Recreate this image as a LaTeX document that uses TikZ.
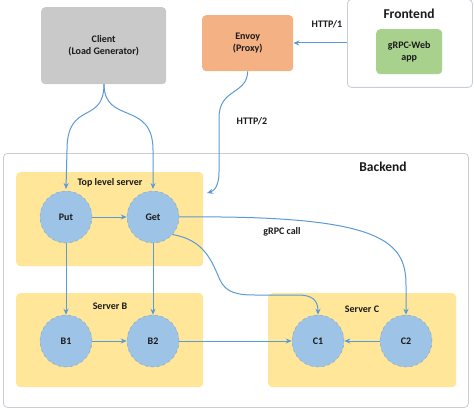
\documentclass[tikz,border=0pt]{standalone}
\usepackage{fontspec}
\setmainfont{Carlito}
\usetikzlibrary{arrows.meta,calc}
\definecolor{edgeblue}{HTML}{5B9BD5}
\definecolor{circfill}{HTML}{9DC3E6}
\definecolor{circline}{HTML}{8AA8C6}
\definecolor{yel}{HTML}{FFE699}
\definecolor{grayfill}{HTML}{C9C9C9}
\definecolor{orangefill}{HTML}{F4B183}
\definecolor{greenfill}{HTML}{A9D18E}
\definecolor{frameline}{HTML}{C8CDD6}
\definecolor{txt}{HTML}{1A1A1A}
\tikzset{
  arr/.style={draw=edgeblue, line width=1pt, -{Stealth[length=6pt,width=5pt]}},
  srv/.style={fill=yel, draw=none, rounded corners=4pt},
  circ/.style={circle, fill=circfill, draw=circline, dashed, line width=0.5pt, minimum size=52pt, inner sep=0pt, font=\bfseries\fontsize{10}{11}\selectfont, text=txt},
  lbl/.style={font=\bfseries\fontsize{10}{12}\selectfont, text=txt},
  bigl/.style={font=\bfseries\fontsize{13.5}{15}\selectfont, text=txt},
}
\begin{document}
\begin{tikzpicture}[x=1pt,y=-1pt]
\useasboundingbox (0,0) rectangle (474,412);
% frames
\node[draw=frameline, fill=white, rounded corners=4pt, minimum width=465pt, minimum height=254pt, anchor=north west, line width=0.8pt] (backend) at (3,153) {};
\node[bigl] (backendl) at (383,167) {Backend};
\node[draw=frameline, fill=white, rounded corners=4pt, minimum width=125pt, minimum height=88pt, anchor=north west, line width=0.8pt] (frontend) at (347,-1) {};
\node[bigl] (frontendl) at (409,14) {Frontend};
% boxes
\node[fill=grayfill, rounded corners=4pt, minimum width=125pt, minimum height=77pt, anchor=north west, align=center, lbl] (client) at (41,7) {Client\\(Load Generator)};
\node[fill=orangefill, rounded corners=4pt, minimum width=91pt, minimum height=56pt, anchor=north west, align=center, lbl] (envoy) at (202,15) {Envoy\\(Proxy)};
\node[fill=greenfill, rounded corners=4pt, minimum width=66pt, minimum height=45pt, anchor=north west, align=center, lbl] (grpcweb) at (376,29) {gRPC-Web\\app};
% server boxes
\node[srv, minimum width=187pt, minimum height=94pt, anchor=north west] (top) at (16,172) {};
\node[lbl] (topl) at (110,183) {Top level server};
\node[srv, minimum width=187pt, minimum height=94pt, anchor=north west] (serverb) at (16,293) {};
\node[lbl] (serverbl) at (110,306) {Server B};
\node[srv, minimum width=188pt, minimum height=94pt, anchor=north west] (serverc) at (268,293) {};
\node[lbl] (servercl) at (362,309) {Server C};
% circles
\node[circ] (put) at (66,217) {Put};
\node[circ] (get) at (153,217) {Get};
\node[circ] (b1) at (66,341) {B1};
\node[circ] (b2) at (153,341) {B2};
\node[circ] (c1) at (318,341) {C1};
\node[circ] (c2) at (406,341) {C2};
% labels
\node[lbl] (http1) at (327,24) {HTTP/1};
\node[lbl] (http2) at (252,121) {HTTP/2};
\node[lbl] (grpccall) at (282,232) {gRPC call};
% coordinates
\coordinate (cs) at (104,84);
\coordinate (putin) at (66,189);
\coordinate (getin) at (153,189);
\coordinate (envin) at (207,193);
% edges
\draw[arr] (cs) .. controls (104,125) and (67,100) .. (67,150) -- (putin);
\draw[arr] (cs) .. controls (104,125) and (153,100) .. (153,150) -- (getin);
\draw[arr] (envoy.south) .. controls (247,95) and (219,88) .. (219,118) -- (219,172) .. controls (219,186) and (214,191) .. (envin);
\draw[arr] (frontend.west |- 0,43) -- (envoy.east |- 0,43);
\draw[arr] (put) -- (get);
\draw[arr] (put) -- (b1);
\draw[arr] (get) -- (b2);
\draw[arr] (b1) -- (b2);
\draw[arr] (b2) -- (c1);
\draw[arr] (c2) -- (c1);
\draw[arr] (get.east) .. controls (380,215) and (406,240) .. (406,285) -- (c2.north);
\draw[arr] (get.-42) .. controls (205,240) and (212,262) .. (220,280) .. controls (226,293) and (238,295) .. (255,295) -- (298,295) .. controls (312,295) and (318,300) .. (c1.north);
\end{tikzpicture}
\end{document}
